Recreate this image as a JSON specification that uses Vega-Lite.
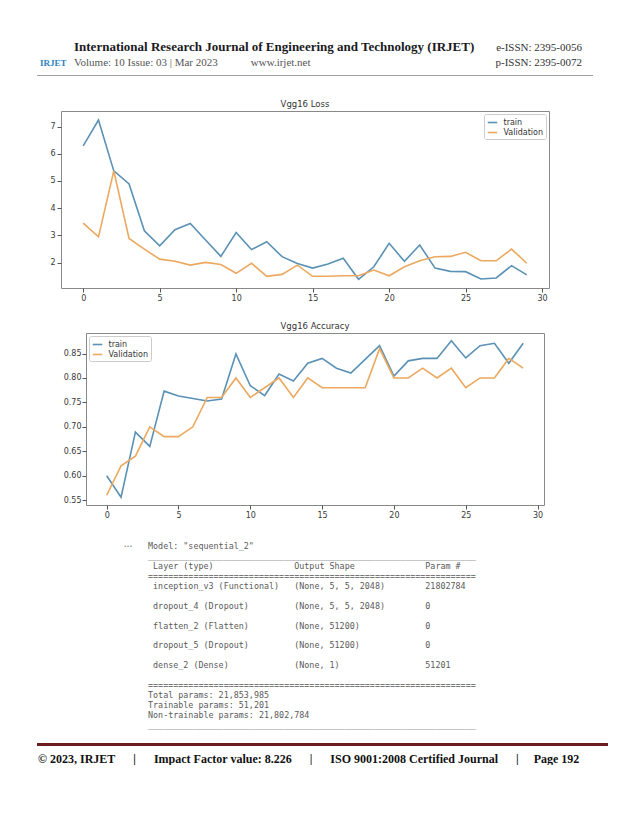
{
  "$schema": "https://vega.github.io/schema/vega-lite/v6.json",
  "background": "white",
  "padding": {"left": 37, "top": 40, "right": 0, "bottom": 0},
  "config": {
    "view": {"stroke": null},
    "font": "DejaVu Sans",
    "axis": {"grid": false, "domain": false, "title": null, "labelFontSize": 8, "labelColor": "#3a3a3a", "tickColor": "#555555", "tickSize": 4, "labelPadding": 2, "labelFlush": false, "labelOverlap": false},
    "legend": {"title": null, "symbolType": "stroke", "symbolStrokeWidth": 1.6, "symbolSize": 90, "labelFontSize": 8, "labelColor": "#333333", "padding": 2.5, "rowPadding": 0, "fillColor": "white", "strokeColor": "#cccccc", "cornerRadius": 2, "offset": 3, "labelOffset": 5}
  },
  "datasets": {
    "loss": [
      {"epoch":0,"series":"train","value":6.29},{"epoch":1,"series":"train","value":7.24},{"epoch":2,"series":"train","value":5.37},{"epoch":3,"series":"train","value":4.89},{"epoch":4,"series":"train","value":3.17},{"epoch":5,"series":"train","value":2.62},{"epoch":6,"series":"train","value":3.21},{"epoch":7,"series":"train","value":3.44},{"epoch":8,"series":"train","value":2.83},{"epoch":9,"series":"train","value":2.23},{"epoch":10,"series":"train","value":3.11},{"epoch":11,"series":"train","value":2.48},{"epoch":12,"series":"train","value":2.77},{"epoch":13,"series":"train","value":2.22},{"epoch":14,"series":"train","value":1.97},{"epoch":15,"series":"train","value":1.80},{"epoch":16,"series":"train","value":1.95},{"epoch":17,"series":"train","value":2.16},{"epoch":18,"series":"train","value":1.39},{"epoch":19,"series":"train","value":1.85},{"epoch":20,"series":"train","value":2.71},{"epoch":21,"series":"train","value":2.05},{"epoch":22,"series":"train","value":2.65},{"epoch":23,"series":"train","value":1.80},{"epoch":24,"series":"train","value":1.68},{"epoch":25,"series":"train","value":1.67},{"epoch":26,"series":"train","value":1.40},{"epoch":27,"series":"train","value":1.44},{"epoch":28,"series":"train","value":1.89},{"epoch":29,"series":"train","value":1.55},
      {"epoch":0,"series":"Validation","value":3.45},{"epoch":1,"series":"Validation","value":2.95},{"epoch":2,"series":"Validation","value":5.37},{"epoch":3,"series":"Validation","value":2.89},{"epoch":4,"series":"Validation","value":2.50},{"epoch":5,"series":"Validation","value":2.13},{"epoch":6,"series":"Validation","value":2.05},{"epoch":7,"series":"Validation","value":1.91},{"epoch":8,"series":"Validation","value":2.01},{"epoch":9,"series":"Validation","value":1.93},{"epoch":10,"series":"Validation","value":1.61},{"epoch":11,"series":"Validation","value":1.98},{"epoch":12,"series":"Validation","value":1.50},{"epoch":13,"series":"Validation","value":1.57},{"epoch":14,"series":"Validation","value":1.91},{"epoch":15,"series":"Validation","value":1.50},{"epoch":16,"series":"Validation","value":1.50},{"epoch":17,"series":"Validation","value":1.52},{"epoch":18,"series":"Validation","value":1.52},{"epoch":19,"series":"Validation","value":1.73},{"epoch":20,"series":"Validation","value":1.52},{"epoch":21,"series":"Validation","value":1.85},{"epoch":22,"series":"Validation","value":2.07},{"epoch":23,"series":"Validation","value":2.22},{"epoch":24,"series":"Validation","value":2.23},{"epoch":25,"series":"Validation","value":2.38},{"epoch":26,"series":"Validation","value":2.07},{"epoch":27,"series":"Validation","value":2.07},{"epoch":28,"series":"Validation","value":2.50},{"epoch":29,"series":"Validation","value":1.98}
    ],
    "acc": [
      {"epoch":0,"series":"train","value":0.600},{"epoch":1,"series":"train","value":0.556},{"epoch":2,"series":"train","value":0.689},{"epoch":3,"series":"train","value":0.660},{"epoch":4,"series":"train","value":0.773},{"epoch":5,"series":"train","value":0.763},{"epoch":6,"series":"train","value":0.758},{"epoch":7,"series":"train","value":0.753},{"epoch":8,"series":"train","value":0.757},{"epoch":9,"series":"train","value":0.849},{"epoch":10,"series":"train","value":0.784},{"epoch":11,"series":"train","value":0.764},{"epoch":12,"series":"train","value":0.808},{"epoch":13,"series":"train","value":0.794},{"epoch":14,"series":"train","value":0.830},{"epoch":15,"series":"train","value":0.840},{"epoch":16,"series":"train","value":0.820},{"epoch":17,"series":"train","value":0.810},{"epoch":18,"series":"train","value":0.838},{"epoch":19,"series":"train","value":0.866},{"epoch":20,"series":"train","value":0.804},{"epoch":21,"series":"train","value":0.835},{"epoch":22,"series":"train","value":0.840},{"epoch":23,"series":"train","value":0.840},{"epoch":24,"series":"train","value":0.876},{"epoch":25,"series":"train","value":0.841},{"epoch":26,"series":"train","value":0.866},{"epoch":27,"series":"train","value":0.871},{"epoch":28,"series":"train","value":0.830},{"epoch":29,"series":"train","value":0.871},
      {"epoch":0,"series":"Validation","value":0.56},{"epoch":1,"series":"Validation","value":0.62},{"epoch":2,"series":"Validation","value":0.64},{"epoch":3,"series":"Validation","value":0.70},{"epoch":4,"series":"Validation","value":0.68},{"epoch":5,"series":"Validation","value":0.68},{"epoch":6,"series":"Validation","value":0.70},{"epoch":7,"series":"Validation","value":0.76},{"epoch":8,"series":"Validation","value":0.76},{"epoch":9,"series":"Validation","value":0.80},{"epoch":10,"series":"Validation","value":0.76},{"epoch":11,"series":"Validation","value":0.78},{"epoch":12,"series":"Validation","value":0.80},{"epoch":13,"series":"Validation","value":0.76},{"epoch":14,"series":"Validation","value":0.80},{"epoch":15,"series":"Validation","value":0.78},{"epoch":16,"series":"Validation","value":0.78},{"epoch":17,"series":"Validation","value":0.78},{"epoch":18,"series":"Validation","value":0.78},{"epoch":19,"series":"Validation","value":0.86},{"epoch":20,"series":"Validation","value":0.80},{"epoch":21,"series":"Validation","value":0.80},{"epoch":22,"series":"Validation","value":0.82},{"epoch":23,"series":"Validation","value":0.80},{"epoch":24,"series":"Validation","value":0.82},{"epoch":25,"series":"Validation","value":0.78},{"epoch":26,"series":"Validation","value":0.80},{"epoch":27,"series":"Validation","value":0.80},{"epoch":28,"series":"Validation","value":0.84},{"epoch":29,"series":"Validation","value":0.82}
    ],
    "summary": [
      {"line":0,"text":"Model: \"sequential_2\""},
      {"line":1,"text":"_________________________________________________________________"},
      {"line":2,"text":"\u200b\u00a0Layer (type)\u00a0\u00a0\u00a0\u00a0\u00a0\u00a0\u00a0\u00a0\u00a0\u00a0\u00a0\u00a0\u00a0\u00a0\u00a0\u00a0Output Shape\u00a0\u00a0\u00a0\u00a0\u00a0\u00a0\u00a0\u00a0\u00a0\u00a0\u00a0\u00a0\u00a0\u00a0Param #"},
      {"line":3,"text":"================================================================="},
      {"line":4,"text":"\u200b\u00a0inception_v3 (Functional)\u00a0\u00a0\u00a0(None, 5, 5, 2048)\u00a0\u00a0\u00a0\u00a0\u00a0\u00a0\u00a0\u00a021802784"},
      {"line":6,"text":"\u200b\u00a0dropout_4 (Dropout)\u00a0\u00a0\u00a0\u00a0\u00a0\u00a0\u00a0\u00a0\u00a0(None, 5, 5, 2048)\u00a0\u00a0\u00a0\u00a0\u00a0\u00a0\u00a0\u00a00"},
      {"line":8,"text":"\u200b\u00a0flatten_2 (Flatten)\u00a0\u00a0\u00a0\u00a0\u00a0\u00a0\u00a0\u00a0\u00a0(None, 51200)\u00a0\u00a0\u00a0\u00a0\u00a0\u00a0\u00a0\u00a0\u00a0\u00a0\u00a0\u00a0\u00a00"},
      {"line":10,"text":"\u200b\u00a0dropout_5 (Dropout)\u00a0\u00a0\u00a0\u00a0\u00a0\u00a0\u00a0\u00a0\u00a0(None, 51200)\u00a0\u00a0\u00a0\u00a0\u00a0\u00a0\u00a0\u00a0\u00a0\u00a0\u00a0\u00a0\u00a00"},
      {"line":12,"text":"\u200b\u00a0dense_2 (Dense)\u00a0\u00a0\u00a0\u00a0\u00a0\u00a0\u00a0\u00a0\u00a0\u00a0\u00a0\u00a0\u00a0(None, 1)\u00a0\u00a0\u00a0\u00a0\u00a0\u00a0\u00a0\u00a0\u00a0\u00a0\u00a0\u00a0\u00a0\u00a0\u00a0\u00a0\u00a051201"},
      {"line":14,"text":"================================================================="},
      {"line":15,"text":"Total params: 21,853,985"},
      {"line":16,"text":"Trainable params: 51,201"},
      {"line":17,"text":"Non-trainable params: 21,802,784"},
      {"line":18,"text":"_________________________________________________________________"}
    ]
  },
  "concat": [
    {
      "hconcat": [
        {
          "width": 36, "height": 1,
          "data": {"values": [{}]},
          "mark": "text",
          "encoding": {"text": {"value": ""}},
          "view": {"fill": "#a0a0a0", "stroke": null},
          "title": {"text": "IRJET", "anchor": "start", "offset": 2, "dx": 3, "font": "Liberation Serif", "fontSize": 9, "fontWeight": "bold", "color": "#2f7fc1"}
        },
        {
          "width": 405, "height": 1,
          "data": {"values": [{}]},
          "mark": "text",
          "encoding": {"text": {"value": ""}},
          "view": {"fill": "#a0a0a0", "stroke": null},
          "title": {"text": "International Research Journal of Engineering and Technology (IRJET)", "subtitle": "Volume: 10 Issue: 03 | Mar 2023\u00a0\u00a0\u00a0\u00a0\u00a0\u00a0\u00a0\u00a0\u00a0\u00a0\u00a0\u00a0www.irjet.net", "anchor": "start", "offset": 2, "dx": 1, "font": "Liberation Serif", "fontSize": 13, "fontWeight": "bold", "color": "#1a1a22", "subtitleFont": "Liberation Serif", "subtitleFontSize": 11, "subtitleColor": "#555555", "subtitlePadding": 3}
        },
        {
          "width": 115, "height": 1,
          "data": {"values": [{}]},
          "mark": "text",
          "encoding": {"text": {"value": ""}},
          "view": {"fill": "#a0a0a0", "stroke": null},
          "title": {"text": "e-ISSN: 2395-0056", "subtitle": "p-ISSN: 2395-0072", "anchor": "end", "offset": 2, "dx": -11, "font": "Liberation Serif", "fontSize": 11, "fontWeight": "normal", "color": "#333333", "subtitleFont": "Liberation Serif", "subtitleFontSize": 11, "subtitleColor": "#333333", "subtitlePadding": 4}
        }
      ],
      "spacing": 0
    },
    {
      "hconcat": [
        {
          "width": 1, "height": 1,
          "data": {"values": [{}]},
          "mark": "text",
          "encoding": {"text": {"value": ""}}
        },
        {
          "width": 488, "height": 177,
          "data": {"name": "loss"},
          "title": {"text": "Vgg16 Loss", "fontSize": 8.5, "fontWeight": "normal", "color": "#333333", "offset": 3, "anchor": "middle"},
          "view": {"stroke": "#888888", "strokeWidth": 1},
          "mark": {"type": "line", "strokeWidth": 1.6},
          "encoding": {
            "x": {"field": "epoch", "type": "quantitative", "scale": {"domain": [-1.45, 30.45], "nice": false, "zero": false}, "axis": {"values": [0, 5, 10, 15, 20, 25, 30]}},
            "y": {"field": "value", "type": "quantitative", "scale": {"domain": [1.07, 7.57], "nice": false, "zero": false}, "axis": {"values": [2, 3, 4, 5, 6, 7], "minExtent": 22, "maxExtent": 22}},
            "color": {"field": "series", "type": "nominal", "scale": {"domain": ["train", "Validation"], "range": ["#5a91b5", "#eba85e"]}, "legend": {"orient": "top-right"}}
          }
        }
      ],
      "spacing": 0,
      "resolve": {"scale": {"color": "independent"}, "legend": {"color": "independent"}}
    },
    {
      "hconcat": [
        {
          "width": 1, "height": 1,
          "data": {"values": [{}]},
          "mark": "text",
          "encoding": {"text": {"value": ""}}
        },
        {
          "width": 458, "height": 172,
          "data": {"name": "acc"},
          "title": {"text": "Vgg16 Accuracy", "fontSize": 8.5, "fontWeight": "normal", "color": "#333333", "offset": 3, "anchor": "middle"},
          "view": {"stroke": "#888888", "strokeWidth": 1},
          "mark": {"type": "line", "strokeWidth": 1.6},
          "encoding": {
            "x": {"field": "epoch", "type": "quantitative", "scale": {"domain": [-1.44, 30.45], "nice": false, "zero": false}, "axis": {"values": [0, 5, 10, 15, 20, 25, 30]}},
            "y": {"field": "value", "type": "quantitative", "scale": {"domain": [0.540, 0.892], "nice": false, "zero": false}, "axis": {"values": [0.55, 0.60, 0.65, 0.70, 0.75, 0.80, 0.85], "format": ".2f", "minExtent": 47, "maxExtent": 47, "labelPadding": 1}},
            "color": {"field": "series", "type": "nominal", "scale": {"domain": ["train", "Validation"], "range": ["#5a91b5", "#eba85e"]}, "legend": {"orient": "top-left"}}
          }
        }
      ],
      "spacing": 0,
      "resolve": {"scale": {"color": "independent"}, "legend": {"color": "independent"}}
    },
    {
      "concat": [
        {
          "hconcat": [
            {
              "width": 1, "height": 1,
              "data": {"values": [{}]},
              "mark": "text",
              "encoding": {"text": {"value": ""}}
            },
            {
              "width": 340, "height": 181,
              "data": {"name": "summary"},
              "mark": {"type": "text", "align": "left", "baseline": "middle", "font": "DejaVu Sans Mono", "fontSize": 8.4, "color": "#5a5a5a"},
              "encoding": {
                "x": {"datum": 0, "type": "quantitative", "scale": {"domain": [0, 1]}, "axis": null},
                "y": {"field": "line", "type": "quantitative", "scale": {"domain": [-0.2, 18], "reverse": true, "nice": false, "zero": false}, "axis": {"values": [0], "labelExpr": "'•••'", "domain": false, "ticks": false, "grid": false, "title": null, "minExtent": 110, "maxExtent": 110, "labelPadding": 16, "labelFontSize": 5, "labelColor": "#777777"}},
                "text": {"field": "text", "type": "nominal"}
              }
            }
          ],
          "spacing": 0
        },
        {
          "width": 571, "height": 3,
          "data": {"values": [{}]},
          "mark": "text",
          "encoding": {"text": {"value": ""}},
          "view": {"fill": "#6b1d22", "stroke": null},
          "title": {"text": "© 2023, IRJET\u00a0\u00a0\u00a0\u00a0\u00a0\u00a0|\u00a0\u00a0\u00a0\u00a0\u00a0\u00a0Impact Factor value: 8.226\u00a0\u00a0\u00a0\u00a0\u00a0\u00a0|\u00a0\u00a0\u00a0\u00a0\u00a0\u00a0ISO 9001:2008 Certified Journal\u00a0\u00a0\u00a0\u00a0\u00a0\u00a0|\u00a0\u00a0\u00a0\u00a0\u00a0Page 192", "orient": "bottom", "anchor": "start", "offset": 4, "dx": 1, "font": "Liberation Serif", "fontSize": 12, "fontWeight": "bold", "color": "#111111"}
        }
      ],
      "columns": 1,
      "spacing": 8
    }
  ],
  "columns": 1,
  "spacing": 18,
  "resolve": {"scale": {"color": "independent"}, "legend": {"color": "independent"}}
}
